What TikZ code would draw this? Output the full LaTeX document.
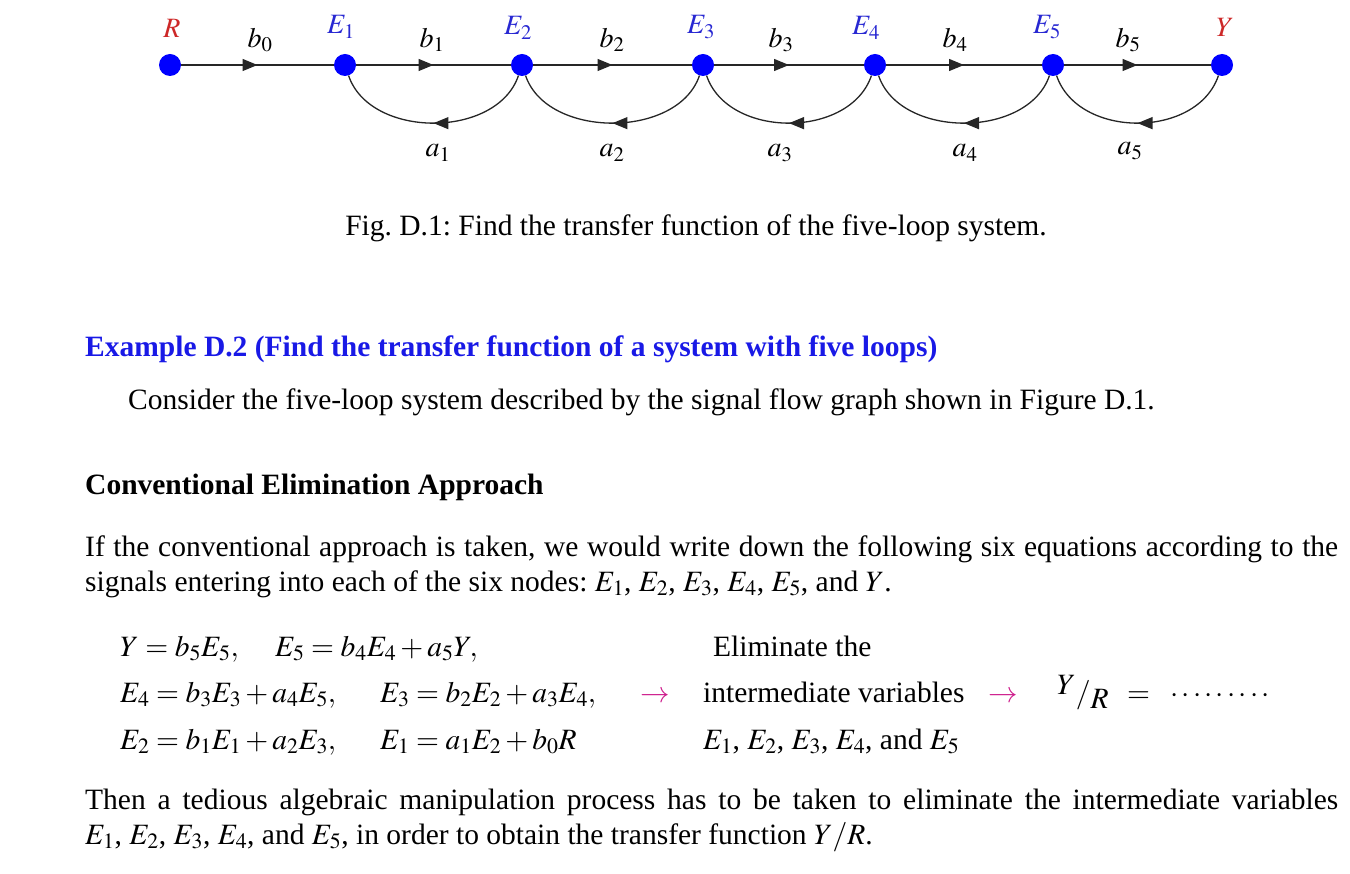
\documentclass[tikz,border=0pt]{standalone}
\usepackage{mathptmx}
\usepackage[no-math]{fontspec}
\setmainfont{Liberation Serif}
\usetikzlibrary{arrows.meta,decorations.markings}
\definecolor{nodeblue}{RGB}{0,0,255}
\definecolor{lblblue}{RGB}{40,40,210}
\definecolor{lblred}{RGB}{205,40,40}
\definecolor{headblue}{RGB}{25,25,230}
\definecolor{arrpink}{RGB}{205,30,140}
\tikzset{
  dot/.style={circle,fill=nodeblue,minimum size=22pt,inner sep=0pt},
  midarrow/.style={postaction={decorate},decoration={markings,
     mark=at position 0.5 with {\arrow{Triangle[length=15pt,width=12pt]}}}},
  fwd/.style={line width=1.3pt,black!85,midarrow},
  back/.style={line width=1.3pt,black!85,midarrow},
  glbl/.style={inner sep=0pt,font=\fontsize{28}{32}\selectfont},
  txt/.style={inner sep=0pt,anchor=base west,font=\fontsize{29.5}{35}\selectfont\frenchspacing},
  ctxt/.style={inner sep=0pt,anchor=base,font=\fontsize{29.5}{35}\selectfont\frenchspacing},
}
\begin{document}
\begin{tikzpicture}[x=1pt,y=-1pt]
\useasboundingbox (0,0) rectangle (1350,874);
% graph nodes
\node[dot] (R)  at (170,65) {};
\node[dot] (E1) at (345,65) {};
\node[dot] (E2) at (522,65) {};
\node[dot] (E3) at (703,65) {};
\node[dot] (E4) at (875,65) {};
\node[dot] (E5) at (1053,65) {};
\node[dot] (Y)  at (1222,65) {};
% forward branches
\draw[fwd] (R) -- (E1);
\draw[fwd] (E1) -- (E2);
\draw[fwd] (E2) -- (E3);
\draw[fwd] (E3) -- (E4);
\draw[fwd] (E4) -- (E5);
\draw[fwd] (E5) -- (Y);
% feedback branches
\draw[back] (E2) .. controls +(-25,74) and +(25,74) .. (E1);
\draw[back] (E3) .. controls +(-25,74) and +(25,74) .. (E2);
\draw[back] (E4) .. controls +(-25,74) and +(25,74) .. (E3);
\draw[back] (E5) .. controls +(-25,74) and +(25,74) .. (E4);
\draw[back] (Y)  .. controls +(-25,74) and +(25,74) .. (E5);
% node labels
\node[glbl,text=lblred]  (lR)  at (172,28) {$R$};
\node[glbl,text=lblblue] (lE1) at (341,27) {$E_1$};
\node[glbl,text=lblblue] (lE2) at (518,28) {$E_2$};
\node[glbl,text=lblblue] (lE3) at (701,27) {$E_3$};
\node[glbl,text=lblblue] (lE4) at (866,28) {$E_4$};
\node[glbl,text=lblblue] (lE5) at (1047,27) {$E_5$};
\node[glbl,text=lblred]  (lY)  at (1225,27) {$Y$};
% branch gains
\node[glbl] (gb0) at (260,40) {$b_0$};
\node[glbl] (gb1) at (432,40) {$b_1$};
\node[glbl] (gb2) at (612,40) {$b_2$};
\node[glbl] (gb3) at (781,40) {$b_3$};
\node[glbl] (gb4) at (955,40) {$b_4$};
\node[glbl] (gb5) at (1128,40) {$b_5$};
\node[glbl] (ga1) at (438,153) {$a_1$};
\node[glbl] (ga2) at (612,153) {$a_2$};
\node[glbl] (ga3) at (780,153) {$a_3$};
\node[glbl] (ga4) at (965,153) {$a_4$};
\node[glbl] (ga5) at (1130,151) {$a_5$};
% caption
\node[ctxt] (cap) at (696,236) {Fig.\ D.1: Find the transfer function of the five-loop system.};
% example heading
\node[txt,text=headblue,font=\fontsize{29.5}{35}\selectfont\bfseries] (head) at (85,357) {Example D.2 (Find the transfer function of a system with five loops)};
\node[txt] (cons) at (128,410) {Consider the five-loop system described by the signal flow graph shown in Figure D.1.};
\node[txt,font=\fontsize{29.5}{35}\selectfont\bfseries] (conv) at (85,494) {Conventional Elimination Approach};
\node[txt] (p1a) at (85,556) {\makebox[1253pt][s]{If the conventional approach is taken, we would write down the following six equations according to the}};
\node[txt] (p1b) at (85,591) {signals entering into each of the six nodes: $E_1$, $E_2$, $E_3$, $E_4$, $E_5$, and $Y$.};
% equations
\node[txt] (eq1a) at (120,656) {$Y = b_5E_5,$};
\node[txt] (eq1b) at (275,656) {$E_5 = b_4E_4 + a_5Y,$};
\node[txt] (eq2a) at (120,702) {$E_4 = b_3E_3 + a_4E_5,$};
\node[txt] (eq2b) at (380,702) {$E_3 = b_2E_2 + a_3E_4,$};
\node[txt] (eq3a) at (120,749) {$E_2 = b_1E_1 + a_2E_3,$};
\node[txt] (eq3b) at (380,749) {$E_1 = a_1E_2 + b_0R$};
\node[txt,text=arrpink] (arr1) at (640,702) {$\rightarrow$};
\node[txt] (el1) at (713,656) {Eliminate the};
\node[txt] (el2) at (703,702) {intermediate variables};
\node[txt] (el3) at (703,749) {$E_1$, $E_2$, $E_3$, $E_4$, and $E_5$};
\node[txt,text=arrpink] (arr2) at (988,702) {$\rightarrow$};
\node[txt] (yr) at (1057,702) {$\raisebox{8pt}{$Y$}/\raisebox{-6pt}{$R$}$};
\node[txt] (eqs) at (1127,702) {$=$};
\node[txt] (dots) at (1170,702) {$\cdots\cdots\cdots$};
% final paragraph
\node[txt] (p2a) at (85,809) {\makebox[1253pt][s]{Then a tedious algebraic manipulation process has to be taken to eliminate the intermediate variables}};
\node[txt] (p2b) at (85,844) {$E_1$, $E_2$, $E_3$, $E_4$, and $E_5$, in order to obtain the transfer function $Y/R$.};
\end{tikzpicture}
\end{document}
